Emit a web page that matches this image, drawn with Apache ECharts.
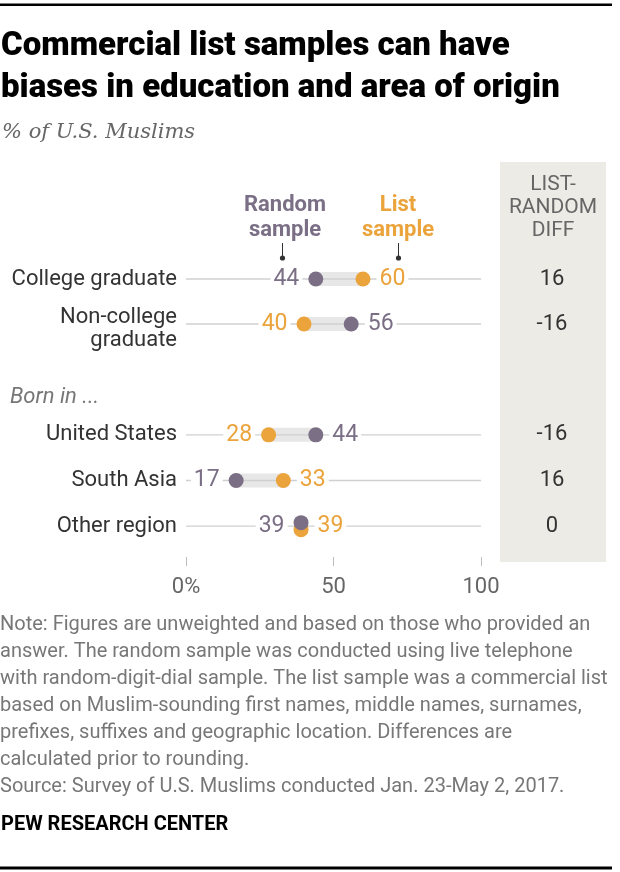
<!DOCTYPE html>
<html>
<head>
<meta charset="utf-8">
<script src="https://cdn.jsdelivr.net/npm/echarts@6/dist/echarts.min.js"></script>
<style>
  html, body { margin: 0; padding: 0; background: #fff; }
  #chart { width: 620px; height: 872px; }
</style>
</head>
<body>
<div id="chart"></div>
<script>
// ---- data ----
const categoriesEdu = ['College graduate', 'Non-college graduate'];
const randomEdu = [44, 56];
const listEdu = [60, 40];
const diffEdu = [16, -16];

const categoriesBorn = ['United States', 'South Asia', 'Other region'];
const randomBorn = [44, 17, 39];
const listBorn = [28, 33, 39];
const diffBorn = [-16, 16, 0];

const xTickValues = [0, 50, 100];
const xTickLabels = ['0%', '50', '100'];

// ---- style ----
const PURPLE = '#7b6f86';
const ORANGE = '#eba33b';
const SANS = 'Roboto, "Noto Sans", sans-serif';

function connectorData(rnd, lst) {
  return rnd.map((r, i) => [r, lst[i], i]);
}

function renderRow(params, api) {
  const r = api.value(0), l = api.value(1), idx = api.value(2);
  const p0 = api.coord([0, idx]);
  const p100 = api.coord([100, idx]);
  const a = api.coord([Math.min(r, l), idx])[0];
  const b = api.coord([Math.max(r, l), idx])[0];
  const y = p0[1];
  return {
    type: 'group',
    children: [
      { type: 'line', shape: { x1: p0[0], y1: y, x2: p100[0], y2: y }, style: { stroke: '#d0d0d0', lineWidth: 1.3 } },
      { type: 'rect', shape: { x: a, y: y - 7, width: b - a, height: 14 }, style: { fill: '#e7e7e7' } },
      { type: 'line', shape: { x1: a, y1: y, x2: b, y2: y }, style: { stroke: '#d0d0d0', lineWidth: 1.3 } }
    ]
  };
}

function dotData(vals, others, isRandom) {
  return vals.map((v, i) => {
    const o = others[i];
    const left = isRandom ? (v <= o) : (v < o);
    const tie = v === o;
    const dy = tie ? (isRandom ? -3.5 : 3.5) : 0;
    return {
      value: [v, i],
      symbolOffset: [0, dy],
      label: { position: left ? 'left' : 'right', offset: [0, -dy] }
    };
  });
}

function dotSeries(vals, others, isRandom, gi) {
  const color = isRandom ? PURPLE : ORANGE;
  return {
    type: 'scatter',
    xAxisIndex: gi, yAxisIndex: gi * 2,
    symbolSize: 15,
    z: isRandom ? 4 : 3,
    itemStyle: { color: color, opacity: 1 },
    label: {
      show: true,
      formatter: p => String(p.value[0]),
      color: color,
      fontFamily: SANS,
      fontSize: 23,
      backgroundColor: '#ffffff',
      padding: [1, 3],
      distance: 6
    },
    emphasis: { disabled: true },
    data: dotData(vals, others, isRandom)
  };
}

function catAxis(gi, data) {
  return {
    type: 'category', gridIndex: gi, data: data, inverse: true,
    axisLine: { show: false }, axisTick: { show: false }, splitLine: { show: false },
    axisLabel: {
      color: '#333', fontFamily: SANS, fontSize: 22, margin: 9,
      formatter: v => v === 'Non-college graduate' ? '{s| }\n{n|Non-college}\n{n|graduate}' : v,
      rich: {
        s: { lineHeight: 10, fontSize: 10 },
        n: { lineHeight: 23, fontSize: 22, color: '#333', fontFamily: SANS, align: 'right' }
      }
    }
  };
}

function diffAxis(gi, data) {
  return {
    type: 'category', gridIndex: gi, position: 'right', inverse: true,
    data: data.map(String),
    axisLine: { show: false }, axisTick: { show: false }, splitLine: { show: false },
    axisLabel: { color: '#333', fontFamily: SANS, fontSize: 22, margin: 71, align: 'center' }
  };
}

const notes = [
  'Note: Figures are unweighted and based on those who provided an',
  'answer. The random sample was conducted using live telephone',
  'with random-digit-dial sample. The list sample was a commercial list',
  'based on Muslim-sounding first names, middle names, surnames,',
  'prefixes, suffixes and geographic location. Differences are',
  'calculated prior to rounding.',
  'Source: Survey of U.S. Muslims conducted Jan. 23-May 2, 2017.'
];

const chart = echarts.init(document.getElementById('chart'), null, { renderer: 'canvas' });
chart.setOption({
  animation: false,
  backgroundColor: '#ffffff',
  grid: [
    { left: 186, width: 295, top: 256.5, height: 90 },
    { left: 186, width: 295, top: 412, height: 137 }
  ],
  xAxis: [
    { type: 'value', gridIndex: 0, min: 0, max: 100, show: false },
    {
      type: 'value', gridIndex: 1, min: 0, max: 100, interval: 50, offset: 8,
      axisLine: { show: false },
      axisTick: { show: true, length: 9, lineStyle: { color: '#bdbdbd', width: 1 } },
      splitLine: { show: false },
      axisLabel: {
        color: '#666', fontFamily: SANS, fontSize: 22, margin: 19,
        formatter: v => { const k = xTickValues.indexOf(v); return k >= 0 ? xTickLabels[k] : ''; }
      }
    }
  ],
  yAxis: [
    catAxis(0, categoriesEdu), diffAxis(0, diffEdu),
    catAxis(1, categoriesBorn), diffAxis(1, diffBorn)
  ],
  series: [
    { type: 'custom', xAxisIndex: 0, yAxisIndex: 0, renderItem: renderRow, encode: { x: [0, 1], y: 2 }, data: connectorData(randomEdu, listEdu), z: 1, silent: true },
    { type: 'custom', xAxisIndex: 1, yAxisIndex: 2, renderItem: renderRow, encode: { x: [0, 1], y: 2 }, data: connectorData(randomBorn, listBorn), z: 1, silent: true },
    dotSeries(listEdu, randomEdu, false, 0),
    dotSeries(randomEdu, listEdu, true, 0),
    dotSeries(listBorn, randomBorn, false, 1),
    dotSeries(randomBorn, listBorn, true, 1)
  ],
  graphic: [
    { type: 'rect', z: -10, shape: { x: 500, y: 162, width: 106, height: 400 }, style: { fill: '#edebe5' } },
    { type: 'rect', shape: { x: 0, y: 3.5, width: 612, height: 2.5 }, style: { fill: '#000' } },
    { type: 'rect', shape: { x: 0, y: 866.5, width: 612, height: 3 }, style: { fill: '#000' } },
    { type: 'text', x: 1, y: 47, style: { text: 'Commercial list samples can have', font: '900 33px Roboto, sans-serif', fill: '#000', verticalAlign: 'middle' } },
    { type: 'text', x: 1, y: 89, style: { text: 'biases in education and area of origin', font: '900 33px Roboto, sans-serif', fill: '#000', verticalAlign: 'middle' } },
    { type: 'text', x: 2, y: 133, style: { text: '% of U.S. Muslims', font: 'italic 21px "DejaVu Serif", serif', fill: '#666', verticalAlign: 'middle' } },
    { type: 'text', x: 553, y: 208, style: { text: 'LIST-\nRANDOM\nDIFF', font: '21px Roboto, sans-serif', fill: '#666', align: 'center', verticalAlign: 'middle', lineHeight: 23 } },
    { type: 'text', x: 285, y: 218, style: { text: 'Random\nsample', font: 'bold 22px Roboto, sans-serif', fill: PURPLE, align: 'center', verticalAlign: 'middle', lineHeight: 25 } },
    { type: 'text', x: 398, y: 218, style: { text: 'List\nsample', font: 'bold 22px Roboto, sans-serif', fill: ORANGE, align: 'center', verticalAlign: 'middle', lineHeight: 25 } },
    { type: 'line', shape: { x1: 282.5, y1: 243, x2: 282.5, y2: 257 }, style: { stroke: '#333', lineWidth: 1 } },
    { type: 'circle', shape: { cx: 282.5, cy: 258, r: 2.6 }, style: { fill: '#333' } },
    { type: 'line', shape: { x1: 398.5, y1: 243, x2: 398.5, y2: 257 }, style: { stroke: '#333', lineWidth: 1 } },
    { type: 'circle', shape: { cx: 398.5, cy: 258, r: 2.6 }, style: { fill: '#333' } },
    { type: 'text', x: 10, y: 397, style: { text: 'Born in ...', font: 'italic 22px Roboto, sans-serif', fill: '#777', verticalAlign: 'middle' } },
    { type: 'text', x: 0, y: 611.5, style: { text: notes.join('\n'), font: '20px Roboto, sans-serif', fill: '#777', verticalAlign: 'top', lineHeight: 27 } },
    { type: 'text', x: 1, y: 825, style: { text: 'PEW RESEARCH CENTER', font: 'bold 20px Roboto, sans-serif', fill: '#000', verticalAlign: 'middle' } }
  ]
});
</script>
</body>
</html>
